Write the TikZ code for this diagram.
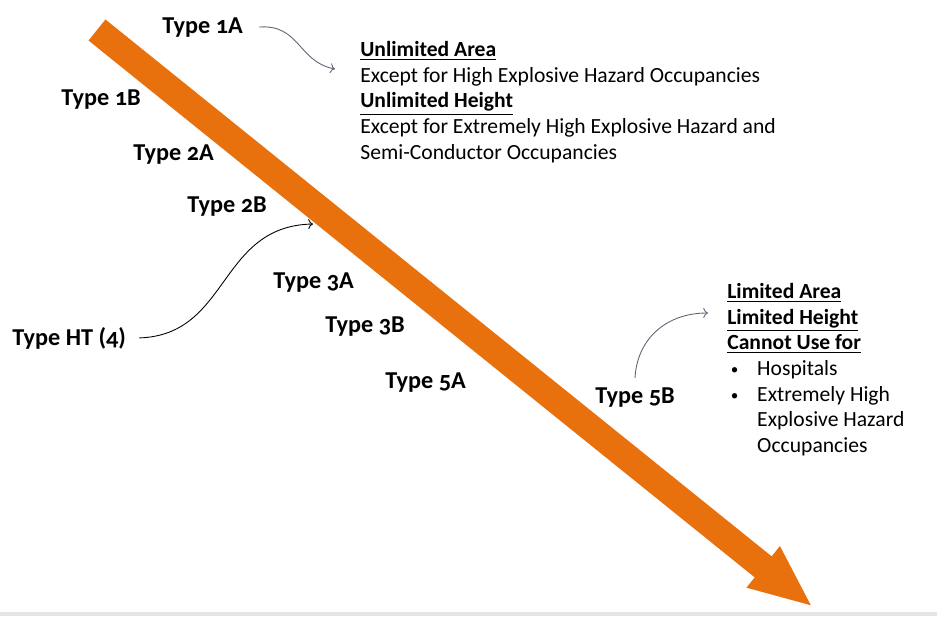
\documentclass[tikz,border=0pt]{standalone}
\usepackage{fontspec}
\setmainfont{Carlito}[Numbers=OldStyle]
\usetikzlibrary{arrows.meta}
\definecolor{flow}{RGB}{233,113,13}
\definecolor{linkgray}{RGB}{95,100,115}
\newcommand{\notebullet}{\makebox[17pt][l]{\hspace{2pt}\raisebox{0.6pt}{\scalebox{0.7}{•}}}}

\begin{document}
\begin{tikzpicture}[x=0.02cm,y=-0.02cm]
\tikzstyle{typelabel}=[
	anchor=base west,
	inner sep=0pt,
	font=\bfseries\fontsize{13.8}{17}\selectfont ]
\tikzstyle{note}=[
	anchor=north west,
	inner sep=0pt,
	align=left,
	font=\fontsize{12.3}{14.6}\selectfont ]
\tikzstyle{link}=[->, line width=0.5pt]
\useasboundingbox (0,0) rectangle (937,616);
\fill[black!10] (0,612) rectangle (937,616);
\coordinate (top) at (97,30);
\coordinate (tip) at (813,607);
\draw[flow, line width=0.54cm, -{Triangle[length=1.28cm,width=0.96cm]}] (top) -- (tip);
\node[typelabel] (t1a) at (162,33) {Type 1A};
\node[typelabel] (t1b) at (61,105) {Type 1B};
\node[typelabel] (t2a) at (133,160) {Type 2A};
\node[typelabel] (t2b) at (187,212) {Type 2B};
\node[typelabel] (t3a) at (273,288) {Type 3A};
\node[typelabel] (t3b) at (325,332) {Type 3B};
\node[typelabel] (t5a) at (385,388) {Type 5A};
\node[typelabel] (t5b) at (595,403) {Type 5B};
\node[typelabel] (tht) at (12,345) {Type HT (4)};
\node[note] (unlim) at (360,41) {\underline{\textbf{Unlimited Area}}\\
	Except for High Explosive Hazard Occupancies\\
	\underline{\textbf{Unlimited Height}}\\
	Except for Extremely High Explosive Hazard and\\
	Semi-Conductor Occupancies};
\node[note] (lim) at (727,283) {\underline{\textbf{Limited Area}}\\
	\underline{\textbf{Limited Height}}\\
	\underline{\textbf{Cannot Use for}}\\
	\notebullet Hospitals\\
	\notebullet Extremely High\\
	\hspace*{17pt}Explosive Hazard\\
	\hspace*{17pt}Occupancies};
\coordinate (unlimin) at (335,69);
\coordinate (htend) at (313,224);
\coordinate (limin) at (708,313);
\draw[link, linkgray] ([xshift=0.32cm]t1a.east) .. controls (300,24) and (298,62) .. (unlimin);
\draw[link] ([xshift=0.26cm]tht.east) .. controls (230,335) and (218,226) .. (htend);
\draw[link, linkgray] ([yshift=0.18cm]t5b.north) .. controls (637,340) and (665,313) .. (limin);
\end{tikzpicture}
\end{document}
